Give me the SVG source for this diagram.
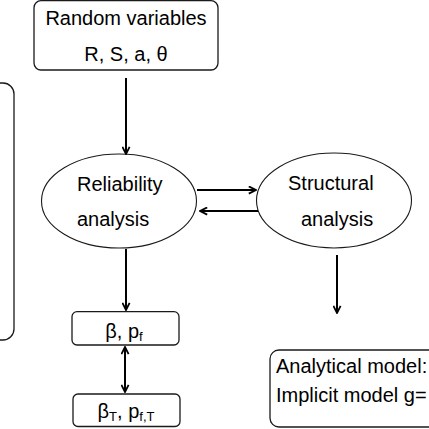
<svg xmlns="http://www.w3.org/2000/svg" width="429" height="429" viewBox="0 0 429 429">
<defs>
<style>
.box{fill:#fff;stroke:#1a1a1a;stroke-width:1.3}
.ell{fill:#fff;stroke:#1a1a1a;stroke-width:1.1}
.t{font-family:"Liberation Sans",Arial,sans-serif;font-size:20px;fill:#000}
.sub{font-size:13px}
.c{stroke:#000;stroke-width:2;fill:none}
</style>
<marker id="ah" viewBox="0 0 10 10" refX="9" refY="5" markerWidth="9" markerHeight="9" markerUnits="userSpaceOnUse" orient="auto-start-reverse">
<path d="M1,1 L9,5 L1,9" fill="none" stroke="#000" stroke-width="2"/>
</marker>
</defs>
<rect width="429" height="429" fill="#fff"/>
<g id="left-panel"><rect class="box" x="-100" y="83" width="114" height="257" rx="11"/></g>
<g id="random-variables">
<rect class="box" x="34" y="0.7" width="184" height="69.3" rx="7"/>
<text class="t" x="126" y="25" text-anchor="middle">Random variables</text>
<text class="t" x="126" y="61" text-anchor="middle">R, S, a, θ</text>
</g>
<g id="reliability">
<ellipse class="ell" cx="119" cy="201" rx="77.5" ry="47"/>
<text class="t" x="77" y="191">Reliability</text>
<text class="t" x="77" y="226">analysis</text>
</g>
<g id="structural">
<ellipse class="ell" cx="334" cy="200.5" rx="77.5" ry="47.5"/>
<text class="t" x="288" y="190">Structural</text>
<text class="t" x="301" y="226">analysis</text>
</g>
<g id="beta-pf">
<rect class="box" x="72" y="311.7" width="107" height="33.3" rx="5"/>
<text class="t" x="124" y="338" text-anchor="middle">β, p<tspan class="sub" dy="3">f</tspan></text>
</g>
<g id="beta-target">
<rect class="box" x="73" y="394" width="107" height="32.5" rx="5"/>
<text class="t" x="126" y="418" text-anchor="middle">β<tspan class="sub" dy="3">T</tspan><tspan dy="-3">, p</tspan><tspan class="sub" dy="3">f,T</tspan></text>
</g>
<g id="model">
<rect class="box" x="270" y="350" width="200" height="77" rx="9"/>
<text class="t" x="276" y="373">Analytical model:</text>
<text class="t" x="276" y="402">Implicit model g=</text>
</g>
<g id="connectors">
<line class="c" x1="126" y1="78" x2="126" y2="154" marker-end="url(#ah)"/>
<line class="c" x1="197" y1="190" x2="256" y2="190" marker-end="url(#ah)"/>
<line class="c" x1="258" y1="211" x2="200" y2="211" marker-end="url(#ah)"/>
<line class="c" x1="126" y1="249" x2="126" y2="310" marker-end="url(#ah)"/>
<line class="c" x1="125" y1="347" x2="125" y2="392" marker-start="url(#ah)" marker-end="url(#ah)"/>
<line class="c" x1="337" y1="255" x2="337" y2="313" marker-end="url(#ah)"/>
</g>
</svg>
